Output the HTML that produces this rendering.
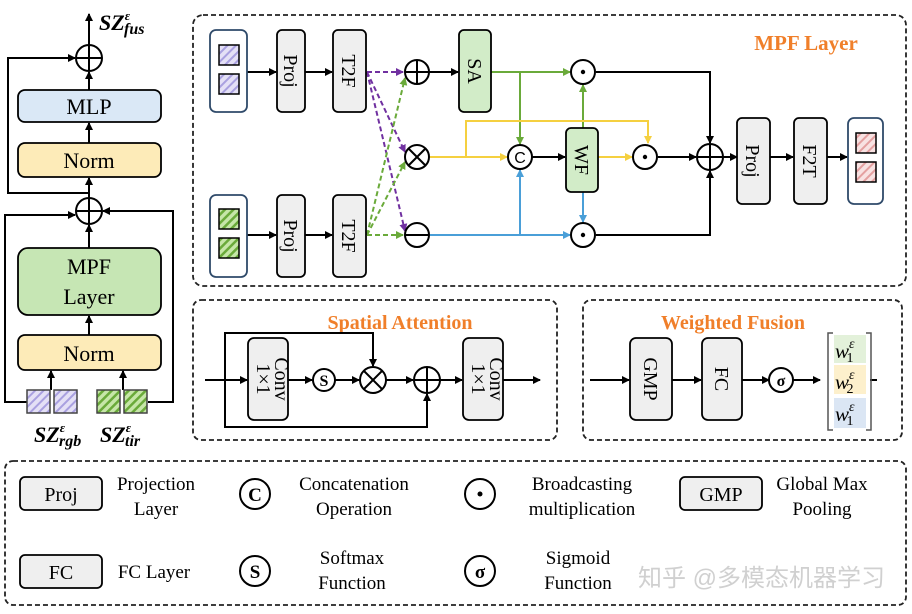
<!DOCTYPE html>
<html><head><meta charset="utf-8"><style>
html,body{margin:0;padding:0;background:#fff;}
svg{display:block;font-family:"Liberation Serif",serif;}
</style></head><body>
<svg width="912" height="614" viewBox="0 0 912 614" xmlns="http://www.w3.org/2000/svg">
<defs>
<marker id="ak" markerWidth="8" markerHeight="8" refX="7" refY="4" orient="auto" markerUnits="userSpaceOnUse"><path d="M0,0 L8,4 L0,8 Z" fill="#000"/></marker>
<marker id="ag" markerWidth="8" markerHeight="8" refX="7" refY="4" orient="auto" markerUnits="userSpaceOnUse"><path d="M0,0 L8,4 L0,8 Z" fill="#6aaa3a"/></marker>
<marker id="ay" markerWidth="8" markerHeight="8" refX="7" refY="4" orient="auto" markerUnits="userSpaceOnUse"><path d="M0,0 L8,4 L0,8 Z" fill="#f5d040"/></marker>
<marker id="ab" markerWidth="8" markerHeight="8" refX="7" refY="4" orient="auto" markerUnits="userSpaceOnUse"><path d="M0,0 L8,4 L0,8 Z" fill="#4a9fd8"/></marker>
<marker id="ap" markerWidth="8" markerHeight="8" refX="7" refY="4" orient="auto" markerUnits="userSpaceOnUse"><path d="M0,0 L8,4 L0,8 Z" fill="#7030a0"/></marker>
<pattern id="hp" width="6" height="6" patternUnits="userSpaceOnUse" patternTransform="rotate(45)"><rect width="6" height="6" fill="#e4e0f6"/><rect width="2" height="6" fill="#a9a0e0"/></pattern>
<pattern id="hg" width="6" height="6" patternUnits="userSpaceOnUse" patternTransform="rotate(45)"><rect width="6" height="6" fill="#c6e6a8"/><rect width="2.5" height="6" fill="#6aaa3a"/></pattern>
<pattern id="hr" width="6" height="6" patternUnits="userSpaceOnUse" patternTransform="rotate(45)"><rect width="6" height="6" fill="#f8e2e2"/><rect width="2" height="6" fill="#e4a0a0"/></pattern>
</defs>

<!-- LEFT PANEL -->
<g stroke="#000" stroke-width="2" fill="none">
<line x1="89" y1="45" x2="89" y2="14" marker-end="url(#ak)"/>
<circle cx="89" cy="58" r="13" fill="#fff"/><line x1="76" y1="58" x2="102" y2="58"/><line x1="89" y1="45" x2="89" y2="71"/>
<line x1="89" y1="90" x2="89" y2="72" marker-end="url(#ak)"/>
<line x1="89" y1="143" x2="89" y2="123" marker-end="url(#ak)"/>
<line x1="89" y1="198" x2="89" y2="178" marker-end="url(#ak)"/>
<polyline points="89,193 8,193 8,58 75,58" marker-end="url(#ak)"/>
<circle cx="89" cy="211" r="13" fill="#fff"/><line x1="76" y1="211" x2="102" y2="211"/><line x1="89" y1="198" x2="89" y2="224"/>
<line x1="89" y1="248" x2="89" y2="225" marker-end="url(#ak)"/>
<line x1="89" y1="335" x2="89" y2="316" marker-end="url(#ak)"/>
<line x1="51" y1="390" x2="51" y2="371" marker-end="url(#ak)"/>
<line x1="123" y1="390" x2="123" y2="371" marker-end="url(#ak)"/>
<polyline points="27,402 5,402 5,215 75,215" marker-end="url(#ak)"/>
<polyline points="148,402 173,402 173,211 103,211" marker-end="url(#ak)"/>
</g>
<rect x="18" y="90" width="143" height="32" rx="7" fill="#dae8f6" stroke="#000" stroke-width="1.8"/>
<text x="89" y="114" font-size="22" text-anchor="middle">MLP</text>
<rect x="18" y="143" width="143" height="34" rx="7" fill="#fdebb8" stroke="#000" stroke-width="1.8"/>
<text x="89" y="168" font-size="22" text-anchor="middle">Norm</text>
<rect x="18" y="248" width="143" height="67" rx="10" fill="#c6e6b4" stroke="#000" stroke-width="1.8"/>
<text x="89" y="274" font-size="22" text-anchor="middle">MPF</text>
<text x="89" y="304" font-size="22" text-anchor="middle">Layer</text>
<rect x="18" y="335" width="143" height="35" rx="7" fill="#fdebb8" stroke="#000" stroke-width="1.8"/>
<text x="89" y="361" font-size="22" text-anchor="middle">Norm</text>
<rect x="27" y="390" width="23" height="23" fill="url(#hp)" stroke="#444" stroke-width="1.5"/>
<rect x="54" y="390" width="23" height="23" fill="url(#hp)" stroke="#444" stroke-width="1.5"/>
<rect x="97" y="390" width="23" height="23" fill="url(#hg)" stroke="#444" stroke-width="1.5"/>
<rect x="124" y="390" width="23" height="23" fill="url(#hg)" stroke="#444" stroke-width="1.5"/>
<text x="99" y="30" font-size="22" font-weight="bold" font-style="italic">SZ<tspan font-size="13" dy="-10">ε</tspan><tspan font-size="16" dy="14" dx="-6">fus</tspan></text>
<text x="34" y="442" font-size="22" font-weight="bold" font-style="italic">SZ<tspan font-size="13" dy="-10">ε</tspan><tspan font-size="16" dy="14" dx="-6">rgb</tspan></text>
<text x="100" y="442" font-size="22" font-weight="bold" font-style="italic">SZ<tspan font-size="13" dy="-10">ε</tspan><tspan font-size="16" dy="14" dx="-6">tir</tspan></text>

<!-- MPF LAYER -->
<rect x="193" y="15" width="713" height="271" rx="10" fill="none" stroke="#222" stroke-width="1.8" stroke-dasharray="5,3"/>
<text x="806" y="50" font-size="21" font-weight="bold" fill="#f07f2a" text-anchor="middle">MPF Layer</text>

<g stroke-width="2" fill="none">
<line x1="247" y1="72" x2="276" y2="72" stroke="#000" marker-end="url(#ak)"/>
<line x1="305" y1="72" x2="332" y2="72" stroke="#000" marker-end="url(#ak)"/>
<line x1="247" y1="235" x2="276" y2="235" stroke="#000" marker-end="url(#ak)"/>
<line x1="305" y1="235" x2="332" y2="235" stroke="#000" marker-end="url(#ak)"/>
<line x1="429" y1="72" x2="458" y2="72" stroke="#000" marker-end="url(#ak)"/>
<g stroke="#7030a0" stroke-dasharray="5,3">
<line x1="367" y1="72" x2="403" y2="72" marker-end="url(#ap)"/>
<line x1="367" y1="72" x2="405" y2="152" marker-end="url(#ap)"/>
<line x1="367" y1="72" x2="405" y2="231" marker-end="url(#ap)"/>
</g>
<g stroke="#6aaa3a" stroke-dasharray="5,3">
<line x1="367" y1="235" x2="403" y2="235" marker-end="url(#ag)"/>
<line x1="367" y1="235" x2="405" y2="162" marker-end="url(#ag)"/>
<line x1="367" y1="235" x2="405" y2="78" marker-end="url(#ag)"/>
</g>
<line x1="491" y1="72" x2="570" y2="72" stroke="#6aaa3a" marker-end="url(#ag)"/>
<line x1="520" y1="72" x2="520" y2="144" stroke="#6aaa3a" marker-end="url(#ag)"/>
<line x1="583" y1="128" x2="583" y2="85" stroke="#6aaa3a" marker-end="url(#ag)"/>
<line x1="430" y1="157" x2="507" y2="157" stroke="#f5d040" marker-end="url(#ay)"/>
<polyline points="466,157 466,121 648,121 648,143" stroke="#f5d040" marker-end="url(#ay)"/>
<line x1="598" y1="157" x2="632" y2="157" stroke="#f5d040" marker-end="url(#ay)"/>
<line x1="430" y1="235" x2="570" y2="235" stroke="#4a9fd8" marker-end="url(#ab)"/>
<line x1="520" y1="235" x2="520" y2="170" stroke="#4a9fd8" marker-end="url(#ab)"/>
<line x1="583" y1="192" x2="583" y2="222" stroke="#4a9fd8" marker-end="url(#ab)"/>
<line x1="532" y1="157" x2="565" y2="157" stroke="#000" marker-end="url(#ak)"/>
<line x1="658" y1="157" x2="696" y2="157" stroke="#000" marker-end="url(#ak)"/>
<polyline points="596,72 710,72 710,143" stroke="#000" marker-end="url(#ak)"/>
<polyline points="596,235 710,235 710,171" stroke="#000" marker-end="url(#ak)"/>
<line x1="723" y1="157" x2="737" y2="157" stroke="#000" marker-end="url(#ak)"/>
<line x1="770" y1="157" x2="793" y2="157" stroke="#000" marker-end="url(#ak)"/>
<line x1="827" y1="157" x2="847" y2="157" stroke="#000" marker-end="url(#ak)"/>
</g>

<g stroke-width="1.8">
<rect x="210" y="30" width="37" height="82" rx="6" fill="#fff" stroke="#2f4a6a"/>
<rect x="219" y="45" width="20" height="20" fill="url(#hp)" stroke="#000" stroke-width="1.5"/>
<rect x="219" y="74" width="20" height="20" fill="url(#hp)" stroke="#000" stroke-width="1.5"/>
<rect x="210" y="195" width="37" height="82" rx="6" fill="#fff" stroke="#2f4a6a"/>
<rect x="219" y="209" width="20" height="20" fill="url(#hg)" stroke="#000" stroke-width="1.5"/>
<rect x="219" y="238" width="20" height="20" fill="url(#hg)" stroke="#000" stroke-width="1.5"/>
<rect x="848" y="118" width="35" height="86" rx="6" fill="#fff" stroke="#2f4a6a"/>
<rect x="856" y="133" width="20" height="20" fill="url(#hr)" stroke="#000" stroke-width="1.5"/>
<rect x="856" y="162" width="20" height="20" fill="url(#hr)" stroke="#000" stroke-width="1.5"/>
<rect x="277" y="30" width="28" height="82" rx="5" fill="#efefef" stroke="#000"/>
<rect x="333" y="30" width="33" height="82" rx="5" fill="#efefef" stroke="#000"/>
<rect x="277" y="195" width="28" height="82" rx="5" fill="#efefef" stroke="#000"/>
<rect x="333" y="195" width="33" height="82" rx="5" fill="#efefef" stroke="#000"/>
<rect x="459" y="30" width="32" height="82" rx="5" fill="#d2ecc8" stroke="#000"/>
<rect x="566" y="128" width="32" height="64" rx="5" fill="#d2ecc8" stroke="#000"/>
<rect x="737" y="118" width="33" height="86" rx="5" fill="#efefef" stroke="#000"/>
<rect x="794" y="118" width="33" height="86" rx="5" fill="#efefef" stroke="#000"/>
</g>
<g font-size="20">
<text transform="translate(284,71) rotate(90)" text-anchor="middle">Proj</text>
<text transform="translate(342,71) rotate(90)" text-anchor="middle">T2F</text>
<text transform="translate(284,236) rotate(90)" text-anchor="middle">Proj</text>
<text transform="translate(342,236) rotate(90)" text-anchor="middle">T2F</text>
<text transform="translate(468,71) rotate(90)" text-anchor="middle">SA</text>
<text transform="translate(575,160) rotate(90)" text-anchor="middle">WF</text>
<text transform="translate(746,161) rotate(90)" text-anchor="middle">Proj</text>
<text transform="translate(803,161) rotate(90)" text-anchor="middle">F2T</text>
</g>
<g stroke="#000" stroke-width="2" fill="#fff">
<circle cx="417" cy="72" r="12"/><line x1="405" y1="72" x2="429" y2="72"/><line x1="417" y1="60" x2="417" y2="84"/>
<circle cx="417" cy="157" r="12"/><line x1="409" y1="149" x2="425" y2="165"/><line x1="425" y1="149" x2="409" y2="165"/>
<circle cx="417" cy="235" r="12"/><line x1="405" y1="235" x2="429" y2="235"/>
<circle cx="583" cy="72" r="12"/><circle cx="583" cy="235" r="12"/><circle cx="645" cy="157" r="12"/>
<circle cx="520" cy="157" r="12"/>
<circle cx="710" cy="157" r="13"/><line x1="697" y1="157" x2="723" y2="157"/><line x1="710" y1="144" x2="710" y2="170"/>
</g>
<g fill="#000"><circle cx="583" cy="72" r="2.2"/><circle cx="583" cy="235" r="2.2"/><circle cx="645" cy="157" r="2.2"/></g>
<text x="520" y="163" font-size="16" text-anchor="middle" font-family="Liberation Sans, sans-serif">C</text>

<!-- SPATIAL ATTENTION -->
<rect x="193" y="300" width="364" height="140" rx="8" fill="none" stroke="#222" stroke-width="1.8" stroke-dasharray="5,3"/>
<text x="400" y="329" font-size="20" font-weight="bold" fill="#f07f2a" text-anchor="middle">Spatial Attention</text>
<g stroke="#000" stroke-width="2" fill="none">
<line x1="205" y1="380" x2="247" y2="380" marker-end="url(#ak)"/>
<line x1="288" y1="380" x2="312" y2="380" marker-end="url(#ak)"/>
<line x1="335" y1="380" x2="359" y2="380" marker-end="url(#ak)"/>
<line x1="386" y1="380" x2="413" y2="380" marker-end="url(#ak)"/>
<line x1="440" y1="380" x2="462" y2="380" marker-end="url(#ak)"/>
<line x1="503" y1="380" x2="540" y2="380" marker-end="url(#ak)"/>
<polyline points="225,380 225,333 373,333 373,366" marker-end="url(#ak)"/>
<polyline points="225,380 225,427 427,427 427,394" marker-end="url(#ak)"/>
</g>
<rect x="248" y="338" width="40" height="82" rx="6" fill="#efefef" stroke="#000" stroke-width="1.8"/>
<rect x="463" y="338" width="40" height="82" rx="6" fill="#efefef" stroke="#000" stroke-width="1.8"/>
<text transform="translate(275,379) rotate(90)" font-size="20" text-anchor="middle">Conv</text>
<text transform="translate(257,379) rotate(90)" font-size="20" text-anchor="middle">1×1</text>
<text transform="translate(490,379) rotate(90)" font-size="20" text-anchor="middle">Conv</text>
<text transform="translate(472,379) rotate(90)" font-size="20" text-anchor="middle">1×1</text>
<g stroke="#000" stroke-width="2" fill="#fff">
<circle cx="324" cy="380" r="11"/>
<circle cx="373" cy="380" r="13"/><line x1="364" y1="371" x2="382" y2="389"/><line x1="382" y1="371" x2="364" y2="389"/>
<circle cx="427" cy="380" r="13"/><line x1="414" y1="380" x2="440" y2="380"/><line x1="427" y1="367" x2="427" y2="393"/>
</g>
<text x="324" y="386" font-size="16" font-weight="bold" text-anchor="middle">S</text>

<!-- WEIGHTED FUSION -->
<rect x="583" y="300" width="319" height="140" rx="8" fill="none" stroke="#222" stroke-width="1.8" stroke-dasharray="5,3"/>
<text x="733" y="329" font-size="20" font-weight="bold" fill="#f07f2a" text-anchor="middle">Weighted Fusion</text>
<g stroke="#000" stroke-width="2" fill="none">
<line x1="590" y1="380" x2="629" y2="380" marker-end="url(#ak)"/>
<line x1="672" y1="380" x2="701" y2="380" marker-end="url(#ak)"/>
<line x1="742" y1="380" x2="769" y2="380" marker-end="url(#ak)"/>
<line x1="793" y1="380" x2="820" y2="380" marker-end="url(#ak)"/>
<line x1="870" y1="380" x2="877" y2="380"/>
</g>
<rect x="630" y="338" width="42" height="82" rx="6" fill="#efefef" stroke="#000" stroke-width="1.8"/>
<rect x="702" y="338" width="40" height="82" rx="6" fill="#efefef" stroke="#000" stroke-width="1.8"/>
<text transform="translate(644,379) rotate(90)" font-size="20" text-anchor="middle">GMP</text>
<text transform="translate(715,379) rotate(90)" font-size="20" text-anchor="middle">FC</text>
<circle cx="781" cy="380" r="12" fill="#fff" stroke="#000" stroke-width="2"/>
<text x="781" y="386" font-size="16" font-weight="bold" text-anchor="middle">σ</text>
<rect x="834" y="335" width="32" height="28" fill="#e3f1da"/>
<rect x="834" y="365" width="32" height="29" fill="#fdf0cc"/>
<rect x="834" y="398" width="32" height="30" fill="#dbe6f4"/>
<polyline points="833,333 828,333 828,430 833,430" fill="none" stroke="#555" stroke-width="1.5"/>
<polyline points="866,333 871,333 871,430 866,430" fill="none" stroke="#555" stroke-width="1.5"/>
<g font-size="21" font-style="italic">
<text x="835" y="358">w<tspan font-size="14" dy="-10">ε</tspan><tspan font-size="14" dy="14" dx="-8" font-style="normal">1</tspan></text>
<text x="835" y="389">w<tspan font-size="14" dy="-10">ε</tspan><tspan font-size="14" dy="14" dx="-8" font-style="normal">2</tspan></text>
<text x="835" y="421">w<tspan font-size="14" dy="-10">ε</tspan><tspan font-size="14" dy="14" dx="-8" font-style="normal">1</tspan></text>
</g>

<!-- LEGEND -->
<rect x="5" y="461" width="901" height="144" rx="8" fill="none" stroke="#222" stroke-width="1.8" stroke-dasharray="5,3"/>
<rect x="20" y="477" width="82" height="33" rx="5" fill="#efefef" stroke="#000" stroke-width="1.8"/>
<text x="61" y="501" font-size="20" text-anchor="middle">Proj</text>
<rect x="20" y="555" width="82" height="33" rx="5" fill="#efefef" stroke="#000" stroke-width="1.8"/>
<text x="61" y="579" font-size="20" text-anchor="middle">FC</text>
<rect x="680" y="477" width="82" height="33" rx="5" fill="#efefef" stroke="#000" stroke-width="1.8"/>
<text x="721" y="501" font-size="20" text-anchor="middle">GMP</text>
<g stroke="#000" stroke-width="2" fill="#fff">
<circle cx="255" cy="494" r="15"/><circle cx="480" cy="494" r="15"/>
<circle cx="255" cy="571" r="15"/><circle cx="480" cy="571" r="15"/>
</g>
<circle cx="480" cy="494" r="2.5" fill="#000"/>
<text x="255" y="501" font-size="19" font-weight="bold" text-anchor="middle">C</text>
<text x="255" y="578" font-size="19" font-weight="bold" text-anchor="middle">S</text>
<text x="480" y="578" font-size="19" font-weight="bold" text-anchor="middle">σ</text>
<g font-size="19" text-anchor="middle">
<text x="156" y="490">Projection</text><text x="156" y="515">Layer</text>
<text x="354" y="490">Concatenation</text><text x="354" y="515">Operation</text>
<text x="582" y="490">Broadcasting</text><text x="582" y="515">multiplication</text>
<text x="822" y="490">Global Max</text><text x="822" y="515">Pooling</text>
<text x="154" y="578">FC Layer</text>
<text x="352" y="564">Softmax</text><text x="352" y="589">Function</text>
<text x="578" y="564">Sigmoid</text><text x="578" y="589">Function</text>
</g>
<text x="638" y="586" font-size="24" fill="#d0d0d0" font-family="Liberation Sans, 'Noto Sans CJK SC', sans-serif">知乎 @多模态机器学习</text>
</svg>
</body></html>
